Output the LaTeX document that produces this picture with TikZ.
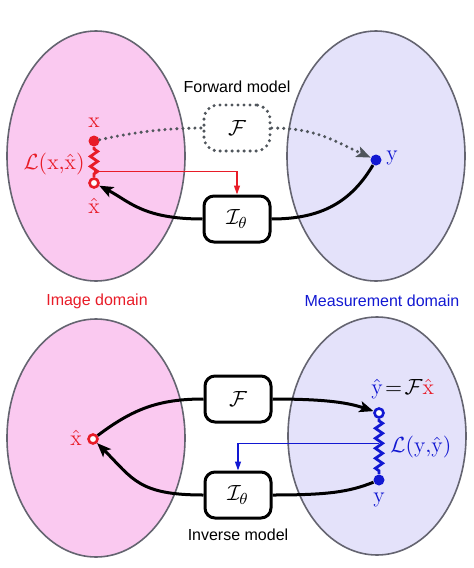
\documentclass[tikz,border=0pt]{standalone}
\usepackage{fontspec}
\setsansfont{Liberation Sans}
\usetikzlibrary{arrows.meta,decorations.pathmorphing,calc}

\definecolor{imgpink}{RGB}{250,201,240}
\definecolor{measlav}{RGB}{228,226,250}
\definecolor{rimgray}{RGB}{100,100,112}
\definecolor{dotgray}{RGB}{80,86,92}
\definecolor{imgred}{RGB}{232,28,40}
\definecolor{measblue}{RGB}{18,24,210}

\tikzset{
  blob/.style={draw=rimgray, line width=0.8pt},
  opbox/.style={draw, rounded corners=5pt, line width=1.5pt, minimum width=33pt, minimum height=23pt, inner sep=0pt, fill=white, font=\fontsize{11}{13}\selectfont},
  ptfull/.style={circle, fill=#1, minimum size=5.5pt, inner sep=0pt},
  ptring/.style={circle, draw=#1, fill=white, line width=1.3pt, minimum size=4.5pt, inner sep=0pt},
  mlabel/.style={inner sep=1pt, font=\fontsize{11}{13}\selectfont},
  tlabel/.style={inner sep=1pt, font=\sffamily\fontsize{8}{10}\selectfont},
  flow/.style={line width=1.5pt},
  tip/.style={-{Stealth[length=7pt,width=5.5pt,inset=1.5pt]}},
  dotline/.style={dotgray, line width=1.7pt, dash pattern=on 0pt off 3pt, line cap=round},
  lossline/.style={line width=0.6pt, -{Triangle[length=4.5pt,width=3pt]}},
  zz/.style={line width=1.4pt, decorate, decoration={zigzag, segment length=5pt, amplitude=1.8pt, pre length=1pt, post length=1pt}}
}

\begin{document}
\begin{tikzpicture}[x=0.5pt, y=-0.5pt]
    \useasboundingbox (0,0) rectangle (474,568);

    % Domains
    \draw[blob, fill=imgpink] (96,156) ellipse (89 and 125);
    \draw[blob, fill=measlav] (376,156) ellipse (89 and 125);
    \draw[blob, fill=imgpink] (96,438) ellipse (89 and 119);
    \draw[blob, fill=measlav] (377,436) ellipse (89 and 119);
    \node[tlabel, imgred] (imglab) at (97,301) {Image domain};
    \node[tlabel, measblue] (measlab) at (382,301) {Measurement domain};

    % Top: forward model and training of the inverse
    \node[tlabel] (fwdlab) at (237,87) {Forward model};
    \node[opbox, draw=dotgray, line width=1.7pt, rounded corners=7pt, dash pattern=on 0pt off 3pt, line cap=round] (fwdA) at (237,128) {$\mathcal{F}$};
    \node[opbox] (invA) at (237,219) {$\mathcal{I}_\theta$};
    \node[ptfull=imgred] (xA) at (94,141) {};
    \node[ptring=imgred] (xhatA) at (94,183) {};
    \node[ptfull=measblue] (yA) at (376,160) {};
    \node[mlabel, imgred] (xlabA) at (94,123) {$\mathrm{x}$};
    \node[mlabel, imgred] (xhatlabA) at (94,206) {$\hat{\mathrm{x}}$};
    \node[mlabel, imgred, anchor=east] (lossA) at (87,164) {$\mathcal{L}(\mathrm{x}{,}\hat{\mathrm{x}})$};
    \node[mlabel, measblue, anchor=west] (ylabA) at (384,158) {$\mathrm{y}$};
    \coordinate (lossptA) at ($(xA)!0.72!(xhatA)$);

    \draw[zz, imgred] (xA) -- (xhatA);
    \draw[dotline] (xA) .. controls +(45,-10) and +(-30,0) .. (fwdA.west);
    \draw[dotline, tip] (fwdA.east) .. controls +(45,0) and +(-40,-18) .. (yA);
    \draw[flow] (yA) .. controls +(-25,42) and +(50,0) .. (invA.east);
    \draw[flow, tip] (invA.west) .. controls +(-60,0) and +(35,18) .. (xhatA);
    \draw[lossline, imgred] (lossptA) -| (invA.north);

    % Bottom: inverse model with the loss in the measurement domain
    \node[opbox] (fwdB) at (238,399) {$\mathcal{F}$};
    \node[opbox] (invB) at (238,495) {$\mathcal{I}_\theta$};
    \node[tlabel] (invlab) at (238,535) {Inverse model};
    \node[ptring=imgred] (xhatB) at (93,439) {};
    \node[ptring=measblue] (yhatB) at (379,413) {};
    \node[ptfull=measblue] (yB) at (379,480) {};
    \node[mlabel, imgred] (xhatlabB) at (76,438) {$\hat{\mathrm{x}}$};
    \node[mlabel, anchor=south west] (yhatlabB) at (369,401) {$\textcolor{measblue}{\hat{\mathrm{y}}}\!=\!\mathcal{F}\textcolor{imgred}{\hat{\mathrm{x}}}$};
    \node[mlabel, measblue, anchor=west] (lossB) at (388,447) {$\mathcal{L}(\mathrm{y}{,}\hat{\mathrm{y}})$};
    \node[mlabel, measblue] (ylabB) at (379,500) {$\mathrm{y}$};
    \coordinate (lossptB) at ($(yhatB)!0.45!(yB)$);

    \draw[zz, measblue] (yhatB) -- (yB);
    \draw[flow] (xhatB) .. controls +(40,-30) and +(-45,0) .. (fwdB.west);
    \draw[flow, tip] (fwdB.east) .. controls +(55,0) and +(-30,-10) .. (yhatB);
    \draw[flow] (yB) .. controls +(-30,12) and +(55,0) .. (invB.east);
    \draw[flow, tip] (invB.west) .. controls +(-65,0) and +(40,40) .. (xhatB);
    \draw[lossline, measblue] (lossptB) -| (invB.north);
\end{tikzpicture}
\end{document}
